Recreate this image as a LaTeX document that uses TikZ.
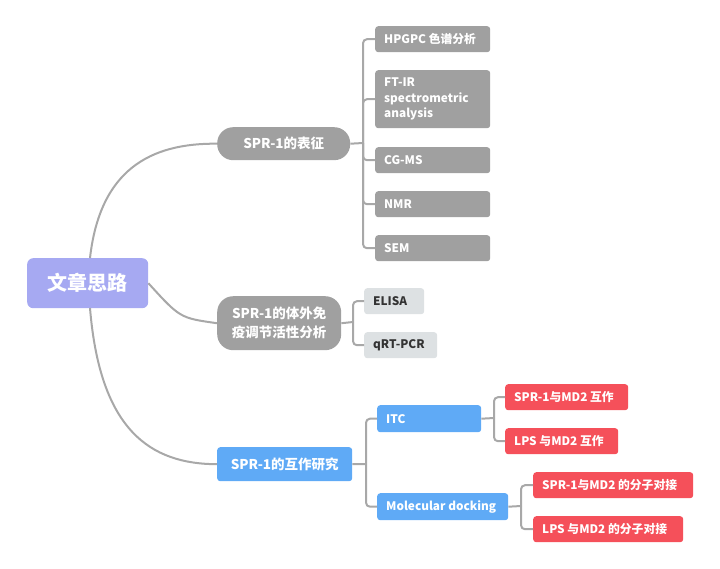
\documentclass[tikz,border=0pt]{standalone}
\usepackage{fontspec}
\setmainfont{Noto Sans CJK SC}
\begin{document}
\begin{tikzpicture}[x=1pt,y=-1pt,
  box/.style={rounded corners=3pt,text=white,font=\fontsize{11.8}{14.8}\selectfont\bfseries,inner xsep=9pt,inner ysep=0pt,anchor=north west,align=left},
  gbox/.style={box,fill=bgray},
  lbox/.style={box,fill=lgray,text=black!80},
  bbox/.style={box,fill=bblue},
  rbox/.style={box,fill=bred},
  brfont/.style={font=\fontsize{13.5}{19}\selectfont\bfseries},
  ln/.style={draw=lgline,line width=2pt,rounded corners=4pt}]
\definecolor{bgray}{HTML}{A0A0A0}
\definecolor{lgray}{HTML}{DDE1E3}
\definecolor{bblue}{HTML}{5FAAF6}
\definecolor{bred}{HTML}{F5505A}
\definecolor{lgline}{HTML}{A8A8A8}
\definecolor{root}{HTML}{A6A9F2}
\useasboundingbox (0,0) rectangle (720,568);
\node[box,fill=root,minimum width=121,minimum height=50,rounded corners=6pt,font=\fontsize{20}{22}\selectfont\bfseries,align=center] (root) at (27,258) {文章思路};
\node[gbox,brfont,minimum width=133,minimum height=33,rounded corners=16pt,inner xsep=0pt,text width=133,align=center] (b1) at (217,127) {SPR-1的表征};
\node[gbox,brfont,minimum width=124,minimum height=54,rounded corners=16pt,inner xsep=0pt,text width=124,align=center] (b2) at (217,296) {SPR-1的体外免\\疫调节活性分析};
\node[bbox,brfont,minimum width=135,minimum height=34,inner xsep=0pt,text width=135,align=center] (b3) at (217,447) {SPR-1的互作研究};
\node[gbox,minimum width=115,minimum height=26] (h1) at (375,26) {\parbox{97pt}{HPGPC 色谱分析}};
\node[gbox,minimum width=115,minimum height=58] (h2) at (375,70) {\parbox{97pt}{\linespread{1.05}\selectfont FT-IR\\spectrometric\\analysis}};
\node[gbox,minimum width=115,minimum height=26] (h3) at (375,147) {\parbox{97pt}{CG-MS}};
\node[gbox,minimum width=115,minimum height=26] (h4) at (375,191) {\parbox{97pt}{NMR}};
\node[gbox,minimum width=115,minimum height=26] (h5) at (375,235) {\parbox{97pt}{SEM}};
\node[lbox,minimum width=60,minimum height=26] (e1) at (364,288) {\parbox{42pt}{ELISA}};
\node[lbox,minimum width=73,minimum height=26] (e2) at (364,332) {\parbox{55pt}{qRT-PCR}};
\node[bbox,minimum width=104,minimum height=27] (i1) at (377,405) {\parbox{86pt}{ITC}};
\node[bbox,minimum width=131,minimum height=27] (i2) at (377,493) {\parbox{113pt}{Molecular docking}};
\node[rbox,minimum width=123,minimum height=26] (r1) at (505,384) {\parbox{105pt}{SPR-1与MD2 互作}};
\node[rbox,minimum width=113,minimum height=26] (r2) at (505,428) {\parbox{95pt}{LPS 与MD2 互作}};
\node[rbox,minimum width=160,minimum height=26] (r3) at (533,472) {\parbox{142pt}{SPR-1与MD2 的分子对接}};
\node[rbox,minimum width=150,minimum height=26] (r4) at (533,516) {\parbox{132pt}{LPS 与MD2 的分子对接}};
\coordinate (rt) at (90,258); \coordinate (rb) at (90,308);
\draw[ln] (rt) .. controls (100,170) and (150,143) .. (b1.west);
\draw[ln] (root.east) .. controls (180,318) .. (b2.west);
\draw[ln] (rb) .. controls (100,430) and (150,464) .. (b3.west);
\coordinate (j1) at (363,143);
\draw[ln] (b1.east) -- (j1);
\foreach \c in {h1,h2,h3,h4,h5} \draw[ln] (j1) |- (\c.west);
\coordinate (j2) at (353,322);
\draw[ln] (b2.east) -- (j2);
\foreach \c in {e1,e2} \draw[ln] (j2) |- (\c.west);
\coordinate (j3) at (366,464);
\draw[ln] (b3.east) -- (j3);
\foreach \c in {i1,i2} \draw[ln] (j3) |- (\c.west);
\coordinate (j4) at (494,418);
\draw[ln] (i1.east) -- (j4);
\foreach \c in {r1,r2} \draw[ln] (j4) |- (\c.west);
\coordinate (j5) at (521,506);
\draw[ln] (i2.east) -- (j5);
\foreach \c in {r3,r4} \draw[ln] (j5) |- (\c.west);
\end{tikzpicture}
\end{document}
